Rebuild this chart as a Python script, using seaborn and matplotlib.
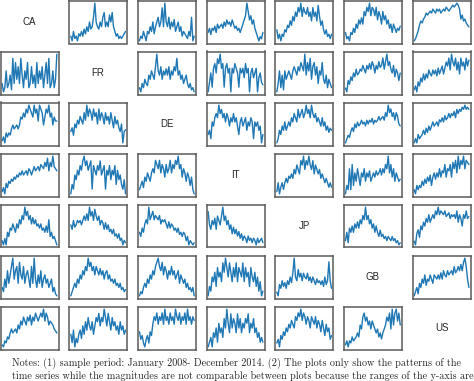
import matplotlib
matplotlib.use("Agg")
import matplotlib.pyplot as plt
import seaborn as sns
import numpy as np
import pandas as pd

countries = ["CA", "FR", "DE", "IT", "JP", "GB", "US"]

# ---- row CA ----
s_CA_FR = [3,2,4,2.5,3,2,3.5,3,4,3,4.5,3.5,5,4,6,4.5,5,7,10,6,5,4.5,6,5,7,8,5,6,5,7.5,6,8,5,4,3,3.5,2.5,3,2.5,3,3.5,4]
s_CA_DE = [2,3,2.5,4,3,2,4,3.5,5,4,6,3.5,5,6,7,5,6,9,5,10,6,5,7,4.5,6,5,6.5,4,5,6,4,5,3,4,3.5,3,2.5,4,3,7,2,3]
s_CA_IT = [3,4,2.5,4,3.5,4.5,3,5,4,4.5,5,4,5.5,4.5,6,5,5.5,4.5,6,5,4,4.5,3.5,4,3,4,5,6,7,10,8,6,7,5,6,4,3,2,1,2,1.5,3]
s_CA_JP = [4,2,3,1.5,3,2.5,4,3.5,5,4.5,6,5,7,6,8,7,9,8,10,7,9,8,7.5,9,7,8,6,9,7,8,6,9.5,7,5,6,4,3,4,2.5,3,2,3]
s_CA_GB = [3,1.5,2,1,3,2.5,4,3,5,4,6,5,6.5,5,8,7,9,8,10,7,9,8.5,7,9,6,8,7,5,8,6,7,5,6,4,5,3,5,4,3,4,3.5,4.5]
s_CA_US = [0,0.5,1.5,2.5,4,5,4.5,5.5,6,7,6.5,7,7.5,7,8,7.5,7,8,7.5,8,7,7.5,8,7.5,8.5,8,7.5,8,8.5,9,8.5,9,9.5,9,8,5.5,6.5,5,5.5,4.5,4,3.5]
# ---- row FR ----
s_FR_CA = [3,1,2,6,2,3,5,1.5,9,3,8,4,7,3,9,5,2,6,4,8,2,3,7,3,5,2,8,3,6,4,7,2,5,8,3,9,2,3,6,2,4,10]
s_FR_DE = [2,1,3,2,4,3,2.5,5,4,6,5,4,7,10,6,5,7,4,6,5,6.5,5,7,4,6,5,7,6,9,5,6,4,5,3,4,5,3,2,3,1.5,2,1]
s_FR_IT = [2,4,6,3,7,8,6,9,8,10,7,8,3,7,8,6,7,2,7,6,8,7,6,3,7,6,7,5,8,6,7,2,6,7,5,6,7,2,5,6,4,3.5]
s_FR_JP = [1,3,6,2,5,1.5,6,4,5,6,5,4,6,7,6,5,7,6,8,7,6,10,5,8,6,9,4,7,8,5,7,3,6,5,8,4,3,5,2,4,3,2]
s_FR_GB = [1,0,3,2,4,3,5,4,6,4.5,5,6,5.5,7,6,5,7,6,7.5,6,8,7,5,7,6,8,6.5,7,9,6,8,10,7,8,6,5,7,4,6,5,3,5]
s_FR_US = [1,2,0.5,3,2,4,3,5,3.5,5,4,6,5,4.5,6,5,6,4.5,6.5,5,6,7,5,6.5,8,7,9,6,10,8,7,9,6,8,5,9,7,8,6,9,7,8.5]
# ---- row DE ----
s_DE_CA = [1,2,0.5,3,2,3,2.5,4,5,4,4.5,5,4,5,7,6.5,8,7,9,8,10,9,8,7,10,8,9,6,10,9,8,5,7,9,8,10,7,8,5,7,6,6]
s_DE_FR = [3,4,2,5,4,6,5,7,6,5,8,6,10,7,9,8,6,9,7,8,5,9,6,8,7,5,8,6,7,5,8,6,4,7,5,6,4,3,5,0,3,3.5]
s_DE_IT = [3,4,2,6,5,7,8,7,10,8,9,7,8,6,8,7,5,7,6,8,6,7,5,3,6,7,5,6,7,4,6,5,7,6,2,6,5,6,4,5,1,3]
s_DE_JP = [1,2,4,3,5,4,6,4,5,6,5,7,6,8,7,6,9,7,8,9,7,8,10,8,9,7,10,8,7,8,6,7,6,5,7,5,6,4,5,3.5,4.5,4]
s_DE_GB = [0,1,2,1.5,3,4,3,5,4,5.5,4.5,5,6,5,5.5,4.5,6,5,6,5.5,6.5,5,6,5.5,6,7,6,6.5,7,6,8,7,10,8,9,7,8,6,8,7,5,4.5]
s_DE_US = [1,2,1,3,2,2.5,3,4,3,4.5,3.5,5,4,5,6,5,5.5,6,5,6.5,6,7,6,7.5,6.5,7,8,7,8,7.5,8.5,7,9,8,9,8.5,9.5,9,10,9,9.5,9]
# ---- row IT ----
s_IT_CA = [1,2,0.5,3,2,3.5,3,4,3.5,4.5,4,5,4.5,5.5,5,6,5,5.5,6,5,6.5,6,5,6,7,6,6.5,7,6,7.5,7,6.5,8,7,9,6,8,7,9.5,7,6.5,6]
s_IT_FR = [2,4,3,6,5,7,6,8,7,9,10,8,9,7,8,9,3,8,7,6,8,7,9,6,7,8,3,7,6,8,5,7,6,8,4,7,5,6,4,3,5,2]
s_IT_DE = [2,3,4,2.5,5,4,6,5,4,6,7,6,9,8,7,9,6,8,7,5,8,6,7,9,6,8,7,9,8,10,7,8,5,7,6,4,6,5,3,5,2,1]
s_IT_JP = [2,4,1.5,3,4,2.5,4,5,4,5.5,5,6,5,7,6,8,7,6,9,8,10,7,9,8,10,8,7,9,6,8,7,6,7,5,6,5,4,5,4,3,4,3]
s_IT_GB = [1,3,2,7,2,8,3,6,4,7,5,3,6,5,7,4,6,5,6.5,4,5,6,5,6.5,5.5,6,7,5.5,7,6,8,7,10,6,8,5,7,4,6,5,4,4.5]
s_IT_US = [2,1,3,2,3,2.5,4,3,4.5,3.5,5,4,5.5,3,5,6,4.5,6,5,7,5,6.5,6,8,5,7,6.5,8,5,8.5,7,9,6,10,7,9,8,10,7,9,8.5,8]
# ---- row JP ----
s_JP_CA = [2,1,2.5,1,4,3,5,4.5,6,5,4,6,5,7,6,8,7,10,8,9,7,8,6,7.5,6,7,5.5,6,5,6,4.5,5,4,5.5,4,7,3,4,2.5,3,2,1]
s_JP_FR = [6,5,7,5.5,6,7,6.5,7,6,7,8,7,8.5,7,10,8,9,7,9.5,8,7,8,6,7,6.5,5,6.5,5,6,4.5,5,4,5,3.5,4,3,4,2.5,3,1.5,2.5,2]
s_JP_DE = [4,3,5,4,6,7,6,10,7,8,9,7,8,7.5,7,8,6,7,6.5,7,6,5,6.5,5,6,5.5,4.5,5,4,5,3.5,4,3,4,3.5,2,3,1,2,1.5,1,1.5]
s_JP_IT = [9,6,5,7,6,7.5,5,8,7,6,8,10,7,8,6,7,5,6,4,5.5,4,5,3.5,4.5,3,4,2.5,3.5,3,2,3.5,2.5,3,2,3,2.5,1.5,3,2,2.5,3,2]
s_JP_GB = [2,4,1.5,5,4,5.5,4,6,5,6.5,5,7,6,8,7,10,7,8,6,7,5,6,4,5.5,4,3,4.5,3,3.5,2.5,3,2,3,2.5,2,3,2,2.5,1.5,2,1,1.5]
s_JP_US = [1,0,3,4,2,5,4,6,5,7,6,8,6,7,8,7,9,8,10,8,9,8.5,8,9,7.5,8,8.5,7,8,7.5,8,7,9,6,8,7,5,8,7,9,7,7.5]
# ---- row GB ----
s_GB_CA = [3,2,5,3,7,4,6,8,10,5,7,8,4,9,6,5,8,4,6,7,5,3,8,4,10,5,3,6,4,7,3,5,6,4,5,3,4,5,2,3,1.5,1]
s_GB_FR = [1,2,3,4,3,5,4,6,5,7,6,8,7,10,8,9,7,8,6,8,7,6,7.5,6,7,5,6.5,7,5,6,4.5,5,4,5,3.5,4,3,4,2.5,3,2,2.5]
s_GB_DE = [1,2,1.5,3,4,3,5,4,6,5,7,6,8,9,10,8,7,9,6,8,7,5,7,6,8,6,7,5,6,7,4,6,5,4,5,3,4,2.5,3,2,3,1]
s_GB_IT = [2,4,3,6,5,7,4,8,6,7,5,9,7,10,8,6,9,7,5,8,6,9,5,8,7,6,9,5,8,6,7,4,8,6,5,7,4,6,3,5,2,3]
s_GB_JP = [1,0,3,2,4,2.5,3.5,2,4,3,5,3.5,6,10,5,4,7,5,6,4,6,5,4.5,6,4,5,3.5,5,4,3,4.5,3.5,4,3,4,2.5,5,3,4,9,4,2]
s_GB_US = [1,2,3,1.5,4,3,5,4,6,3.5,5,4.5,6,5,4,6,5.5,5,6,5,6.5,5,7,6,5.5,7,6,6.5,7,6,8,6.5,7,8,7,8.5,7,9,10,8,5,3]
# ---- row US ----
s_US_CA = [1,0.5,2,1.5,3,2.5,4,5,4,4.5,5,4,6,5,7,6,8,7,6,8,7,8.5,6,8,7,9,8,7,8,9,8,10,7,9,8,6,7,6.5,6,5,4.5,4]
s_US_FR = [4,2,5,1,3,2,4,5,3,6,4,7,5,8,6,5,7,4,6,8,7,9,6,8,7,10,8,6,9,7,5,8,6,7,5,6,4,7,5,6,4,5]
s_US_DE = [4,2,3,1,0,2,3,1,4,3,6,8,7,9,6,8,7,9,6,10,7,8,6,9,7,8,6,10,8,7,9,6,8,7,9,6,10,7,8,6,8,7]
s_US_IT = [2,3,4,2,5,4,6,3,7,5,6,4,8,6,10,7,5,9,6,8,7,5,9,6,8,5,7,6,8,7,9,5,7,6,8,5,6,4,5,3,4,3]
s_US_JP = [1,2,0,3,2,4,3,5,4,6,5,7,6,5,8,7,9,8,10,7,9,8,6,8,7,5,8,7,6,8,5,7,6,4,7,5,3,6,4,5,2,3]
s_US_GB = [1,2,0.5,2,1.5,3,2,2.5,3,4,3,6,5,8,9,7,8,6,7,5,7,6,5,4,5,3,4,2.5,4,5,6,8,7,9,5,10,6,9,10,7,9,6]

note_line1 = "Notes: (1) sample period: January 2008- December 2014. (2) The plots only show the patterns of the"
note_line2 = "time series while the magnitudes are not comparable between plots because the ranges of the y-axis are"

series = {}
for rc in countries:
    for cc in countries:
        name = f"s_{rc}_{cc}"
        if name in globals():
            series[(rc, cc)] = globals()[name]

sns.set_style("white")
W, H = 474, 381
fig = plt.figure(figsize=(W / 100, H / 100), dpi=100)

col_pitch, row_pitch = 68.67, 51.0
cw, ch = 58.0, 43.0
line_color = "#1f77b4"

for r, rc in enumerate(countries):
    for c, cc in enumerate(countries):
        left = 0.5 + c * col_pitch
        top = 0.5 + r * row_pitch
        ax = fig.add_axes([left / W, 1 - (top + ch) / H, cw / W, ch / H])
        if r == c:
            ax.set_axis_off()
            ax.text(0.5, 0.5, rc, ha="center", va="center", fontsize=7,
                    family="Liberation Sans", transform=ax.transAxes)
            continue
        vals = series[(rc, cc)]
        df = pd.DataFrame({"t": np.arange(len(vals)), "v": vals})
        sns.lineplot(data=df, x="t", y="v", ax=ax, color=line_color, linewidth=1.0)
        ax.margins(x=0.03, y=0.07)
        ax.set_xticks([])
        ax.set_yticks([])
        ax.set_xlabel("")
        ax.set_ylabel("")
        for sp in ax.spines.values():
            sp.set_visible(True)
            sp.set_color("#5a5a5a")
            sp.set_linewidth(1.1)

fig.text(12 / W, 1 - 363 / H, note_line1, ha="left", va="center", fontsize=7.3, family="cmr10")
fig.text(12 / W, 1 - 376 / H, note_line2, ha="left", va="center", fontsize=7.3, family="cmr10")

fig.savefig("out.png", dpi=100)
